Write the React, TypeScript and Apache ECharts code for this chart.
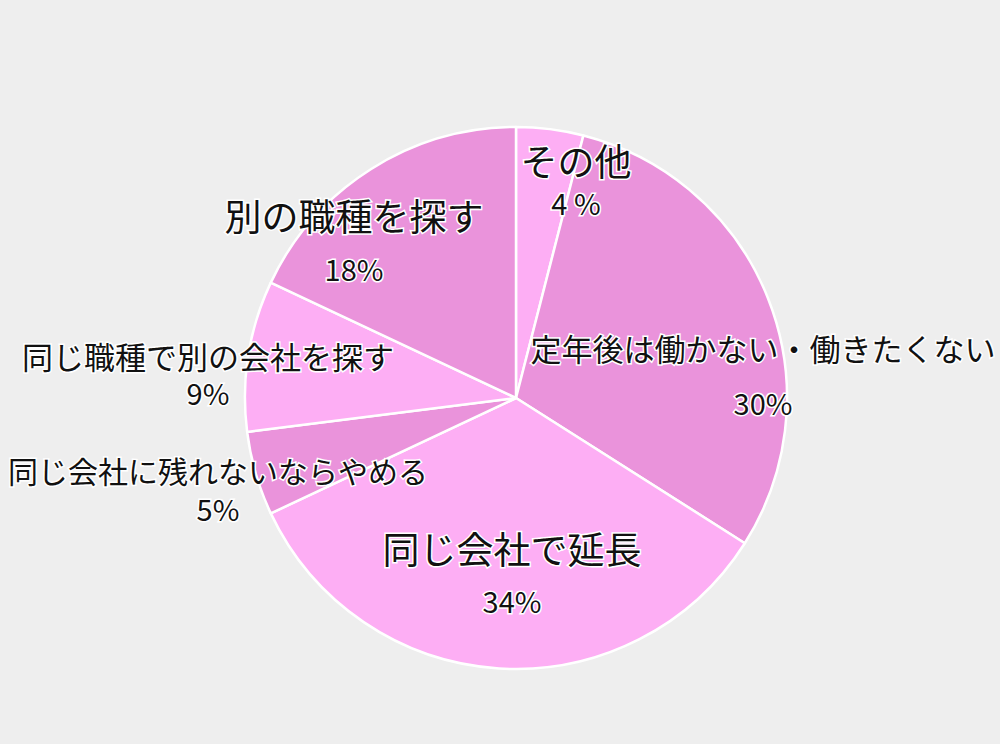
import React, { useEffect, useRef } from "react";
import * as echarts from "echarts";

const categories = [
  "その他",
  "定年後は働かない・働きたくない",
  "同じ会社で延長",
  "同じ会社に残れないならやめる",
  "同じ職種で別の会社を探す",
  "別の職種を探す",
];
const values = [4, 30, 34, 5, 9, 18];
const percentLabels = ["4 %", "30%", "34%", "5%", "9%", "18%"];

// label block centre and line gap per slice
const labelX = [576, 763, 512, 218, 208, 354];
const labelY = [181, 374.5, 574, 489, 373.5, 241.5];
const lineGap = [42, 55, 52, 38, 37, 53];
const nameSize = [37, 31, 37, 30, 31, 37];

const LIGHT = "#fdaef4";
const DARK = "#ea93db";

function PieChart() {
  const chartRef = useRef<HTMLDivElement>(null);

  useEffect(() => {
    const myChart = echarts.init(chartRef.current!, undefined, { renderer: "svg" });
    const font = '"Noto Sans CJK JP", "Noto Sans", sans-serif';

    const option: echarts.EChartsOption = {
      animation: false,
      backgroundColor: "#eeeeee",
      series: [
        {
          type: "pie",
          center: [516, 398],
          radius: 271,
          startAngle: 90,
          clockwise: true,
          itemStyle: { borderColor: "#ffffff", borderWidth: 2.5 },
          labelLine: { show: false },
          emphasis: { disabled: true },
          data: categories.map((name, i) => ({
            name,
            value: values[i],
            itemStyle: { color: i % 2 === 0 ? LIGHT : DARK },
            label: {
              show: true,
              position: "inside",
              formatter: `{n|${name}}\n{p|${percentLabels[i]}}`,
              rich: {
                n: {
                  fontSize: nameSize[i],
                  lineHeight: lineGap[i],
                  fontFamily: font,
                  color: "#111111",
                  textBorderColor: "#ffffff",
                  textBorderWidth: 3,
                },
                p: {
                  fontSize: 29,
                  lineHeight: lineGap[i],
                  fontFamily: font,
                  color: "#111111",
                  textBorderColor: "#ffffff",
                  textBorderWidth: 3,
                },
              },
            },
          })),
          labelLayout: (params: any) => ({
            x: labelX[params.dataIndex],
            y: labelY[params.dataIndex],
            align: "center",
            verticalAlign: "middle",
          }),
        },
      ],
    };

    myChart.setOption(option);

    return () => {
      myChart.dispose();
    };
  }, []);

  return (
    <div
      ref={chartRef}
      style={{ position: "fixed", left: 0, top: 0, width: 1000, height: 744 }}
    />
  );
}

export default function App() {
  return <PieChart />;
}
